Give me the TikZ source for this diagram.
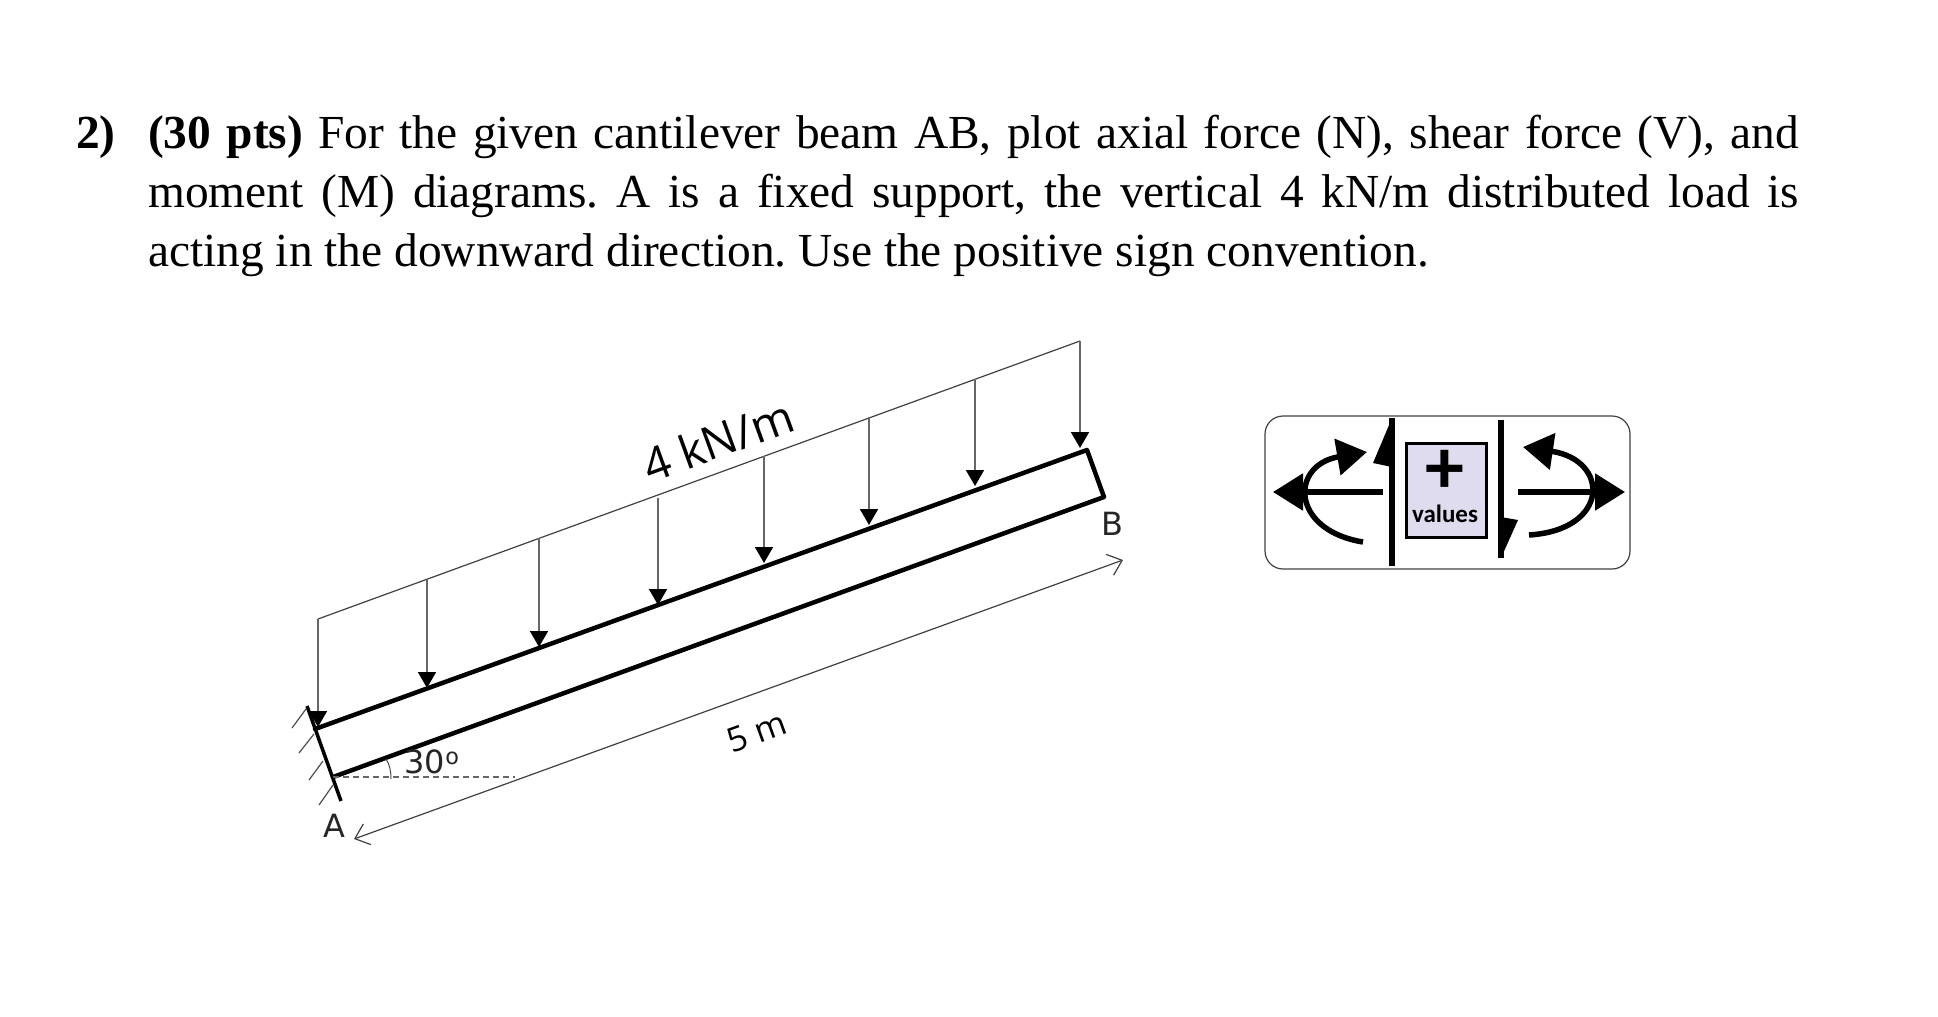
\documentclass[tikz,border=0pt]{standalone}
\usepackage{fontspec}
\setmainfont{Liberation Serif}
\newfontfamily\dejafont{DejaVu Sans}
\newfontfamily\opensfont{Open Sans}
\newfontfamily\carlfont{Carlito}
\usetikzlibrary{arrows.meta,positioning,calc}
\definecolor{boxlilac}{RGB}{224,220,240}
\frenchspacing
\tikzset{
	probline/.style={anchor=base west,inner sep=0pt,font=\fontsize{47.4}{60}\selectfont},
	beamline/.style={line width=4.5pt,line cap=round,line join=round},
	loadline/.style={line width=1.2pt,color=black!75},
	loadarrow/.style={line width=1.8pt,color=black!60,-{Triangle[length=16pt,width=18pt,color=black]}},
	dimline/.style={line width=1.2pt,color=black!75,{Straight Barb[length=13pt,width=22pt]}-{Straight Barb[length=13pt,width=22pt]}},
	hatchline/.style={line width=1.2pt,color=black!70},
	signline/.style={line width=5.5pt},
	signarrow/.style={line width=5.5pt,-{Triangle[length=30pt,width=36pt]}},
	dejalabel/.style={inner sep=0pt,font=\dejafont\fontsize{32}{32}\selectfont,color=black!85},
	openlabel/.style={inner sep=0pt,rotate=20,font=\opensfont\fontsize{46}{46}\selectfont}
}
\begin{document}
\begin{tikzpicture}[x=1pt,y=-1pt]
	\useasboundingbox (0,0) rectangle (1938,1017);
	% problem text
	\node (num) at (76,148)[probline] {\textbf{2)}};
	\node (lineone) at (148,148)[probline] {\makebox[1651pt][s]{\textbf{(30 pts)} For the given cantilever beam AB, plot axial force (N), shear force (V), and}};
	\node (linetwo) at (148,207.5)[probline] {\makebox[1651pt][s]{moment (M) diagrams. A is a fixed support, the vertical 4 kN/m distributed load is}};
	\node (linethree) at (148,266.5)[probline] {acting in the downward direction. Use the positive sign convention.};
	% beam
	\coordinate (tl) at (315,729);
	\coordinate (tr) at (1087,450);
	\coordinate (br) at (1104,497);
	\coordinate (bl) at (333,777);
	\draw[beamline] (tl)--(tr)--(br)--(bl);
	% wall
	\coordinate (walltop) at (307,706);
	\coordinate (wallbot) at (341,801);
	\draw[line width=3.5pt] (walltop)--(wallbot);
	\coordinate (ha1) at (306,709);
	\coordinate (hb1) at (292,728);
	\coordinate (ha2) at (314,734);
	\coordinate (hb2) at (299,753);
	\coordinate (ha3) at (323,761);
	\coordinate (hb3) at (309,780);
	\coordinate (ha4) at (333,785);
	\coordinate (hb4) at (319,805);
	\draw[hatchline] (ha1)--(hb1);
	\draw[hatchline] (ha2)--(hb2);
	\draw[hatchline] (ha3)--(hb3);
	\draw[hatchline] (ha4)--(hb4);
	% load
	\coordinate (p1) at (318,619);
	\coordinate (p2) at (427,580);
	\coordinate (p3) at (539,538);
	\coordinate (p4) at (658,498);
	\coordinate (p5) at (764,456);
	\coordinate (p6) at (869,417);
	\coordinate (p7) at (975,379);
	\coordinate (p8) at (1080,341);
	\coordinate (q1) at (318,727);
	\coordinate (q2) at (427,688);
	\coordinate (q3) at (539,647);
	\coordinate (q4) at (658,605);
	\coordinate (q5) at (764,563);
	\coordinate (q6) at (869,525);
	\coordinate (q7) at (975,486);
	\coordinate (q8) at (1080,448);
	\draw[loadline] (p1)--(p8);
	\draw[loadarrow] (p1)--(q1);
	\draw[loadarrow] (p2)--(q2);
	\draw[loadarrow] (p3)--(q3);
	\draw[loadarrow] (p4)--(q4);
	\draw[loadarrow] (p5)--(q5);
	\draw[loadarrow] (p6)--(q6);
	\draw[loadarrow] (p7)--(q7);
	\draw[loadarrow] (p8)--(q8);
	% dimension and angle
	\coordinate (dimA) at (354,839);
	\coordinate (dimB) at (1123,560);
	\draw[dimline] (dimA)--(dimB);
	\coordinate (dashend) at (515,777);
	\draw[line width=1.5pt,color=black!60,dash pattern=on 6pt off 4pt] (bl)--(dashend);
	\coordinate (arcA) at (386,759);
	\coordinate (arcB) at (391,779);
	\draw[line width=1pt,color=black!70] (arcA) .. controls (390,765) and (391,772) .. (arcB);
	\node (ang) at (432,762)[dejalabel] {30\textsuperscript{o}};
	\node (labA) at (334,826)[dejalabel] {A};
	\node (labB) at (1112,524)[dejalabel] {B};
	\node (load) at (718,440)[openlabel] {4 kN/m};
	\node (len) at (757,732)[openlabel,font=\opensfont\fontsize{34}{34}\selectfont] {5 m};
	% sign convention
	\node (signbox) at (1447.5,492.5)[draw=black!75,line width=1.2pt,rounded corners=18pt,minimum width=365pt,minimum height=153pt,inner sep=0pt] {};
	\node (valbox) at (1446,490.5)[draw=black,line width=3pt,fill=boxlilac,minimum width=80pt,minimum height=94pt,inner sep=0pt] {};
	\node (plus) at (1445,472)[inner sep=0pt,font=\carlfont\bfseries\fontsize{78}{78}\selectfont] {+};
	\node (vals) at (1445,514)[inner sep=0pt,font=\carlfont\bfseries\fontsize{25}{25}\selectfont] {values};
	\coordinate (lbtop) at (1392,418);
	\coordinate (lbbot) at (1392,566);
	\coordinate (lbmid) at (1373,463);
	\coordinate (lbfoot) at (1392,467);
	\draw[signline] (lbtop)--(lbbot);
	\fill (lbtop)--(lbmid)--(lbfoot)--cycle;
	\coordinate (rbtop) at (1501,420);
	\coordinate (rbbot) at (1501,558);
	\coordinate (rbmid) at (1518,520);
	\coordinate (rbfoot) at (1501,517);
	\draw[signline] (rbtop)--(rbbot);
	\fill (rbbot)--(rbmid)--(rbfoot)--cycle;
	\coordinate (lhstart) at (1383,492);
	\coordinate (lhtip) at (1273,492);
	\coordinate (rhstart) at (1518,492);
	\coordinate (rhtip) at (1625,492);
	\draw[signarrow] (lhstart)--(lhtip);
	\draw[signarrow] (rhstart)--(rhtip);
	\coordinate (lcstart) at (1363,542);
	\coordinate (lctip) at (1367,452);
	\coordinate (rcstart) at (1529,535);
	\coordinate (rctip) at (1523,447);
	\draw[signarrow] (lcstart) .. controls (1290,530) and (1290,465) .. (lctip);
	\draw[signarrow] (rcstart) .. controls (1610,530) and (1610,460) .. (rctip);
\end{tikzpicture}
\end{document}
